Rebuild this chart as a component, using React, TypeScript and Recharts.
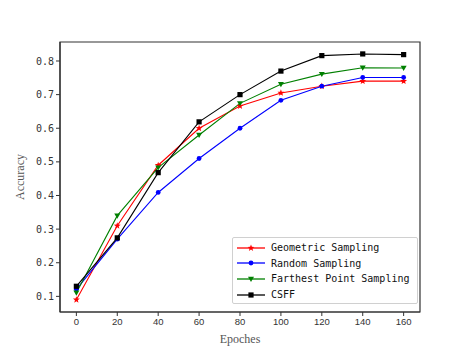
import { LineChart, Line, XAxis, YAxis, Legend, Label, ReferenceArea } from 'recharts';

const epochs = [0, 20, 40, 60, 80, 100, 120, 140, 160];
const geometric = [0.09, 0.31, 0.49, 0.6, 0.666, 0.705, 0.725, 0.74, 0.74];
const random = [0.121, 0.27, 0.409, 0.51, 0.6, 0.683, 0.725, 0.751, 0.751];
const farthest = [0.111, 0.34, 0.483, 0.58, 0.674, 0.731, 0.761, 0.78, 0.779];
const csff = [0.13, 0.274, 0.468, 0.619, 0.7, 0.77, 0.816, 0.821, 0.819];

const xTicks = [0, 20, 40, 60, 80, 100, 120, 140, 160];
const yTicks = [0.1, 0.2, 0.3, 0.4, 0.5, 0.6, 0.7, 0.8];

const xDomain: [number, number] = [-8, 168];
const yDomain: [number, number] = [0.0535, 0.8565];

const data = epochs.map((e, i) => ({
  epoch: e,
  geometric: geometric[i],
  random: random[i],
  farthest: farthest[i],
  csff: csff[i],
}));

type Shape = 'star' | 'circle' | 'tri' | 'square';

function Marker({ x, y, shape, color }: { x: number; y: number; shape: Shape; color: string }) {
  if (shape === 'star') {
    const pts: string[] = [];
    for (let k = 0; k < 10; k++) {
      const r = k % 2 === 0 ? 3.6 : 1.5;
      const a = -Math.PI / 2 + (k * Math.PI) / 5;
      pts.push(`${x + r * Math.cos(a)},${y + r * Math.sin(a)}`);
    }
    return <polygon points={pts.join(' ')} fill={color} stroke="none" />;
  }
  if (shape === 'circle') return <circle cx={x} cy={y} r={2.4} fill={color} />;
  if (shape === 'tri')
    return <polygon points={`${x - 3},${y - 2.2} ${x + 3},${y - 2.2} ${x},${y + 3}`} fill={color} />;
  return <rect x={x - 2.6} y={y - 2.6} width={5.2} height={5.2} fill={color} />;
}

const series: { key: string; name: string; color: string; shape: Shape }[] = [
  { key: 'geometric', name: 'Geometric Sampling', color: '#ff0000', shape: 'star' },
  { key: 'random', name: 'Random Sampling', color: '#0000ff', shape: 'circle' },
  { key: 'farthest', name: 'Farthest Point Sampling', color: '#008000', shape: 'tri' },
  { key: 'csff', name: 'CSFF', color: '#000000', shape: 'square' },
];

const mono = '"DejaVu Sans Mono", monospace';

function LegendBox() {
  return (
    <div
      style={{
        width: 186,
        height: 67,
        border: '1px solid #d0d0d0',
        borderRadius: 2,
        background: '#fff',
        boxSizing: 'border-box',
        paddingTop: 2,
      }}
    >
      {series.map((s) => (
        <div key={s.key} style={{ display: 'flex', alignItems: 'center', height: 15.6 }}>
          <svg width={36} height={12} style={{ marginLeft: 2 }}>
            <line x1={2} y1={6} x2={30} y2={6} stroke={s.color} strokeWidth={1.3} />
            <Marker x={16} y={6} shape={s.shape} color={s.color} />
          </svg>
          <span style={{ fontFamily: mono, fontSize: 10, color: '#111', whiteSpace: 'pre' }}>{s.name}</span>
        </div>
      ))}
    </div>
  );
}

export default function App() {
  return (
    <div style={{ position: 'absolute', left: 0, top: 0, background: '#fff' }}>
      <LineChart width={474} height={353} data={data} margin={{ top: 42, right: 54, left: 0, bottom: 11 }}>
        <XAxis
          dataKey="epoch"
          type="number"
          domain={xDomain}
          ticks={xTicks}
          height={30}
          tickSize={4}
          stroke="#333"
          tick={{ fill: '#333', fontSize: 9.5, fontFamily: 'Liberation Sans, sans-serif' }}
          axisLine={{ stroke: '#333', strokeWidth: 1.2 }}
        >
          <Label
            value="Epoches"
            position="insideBottom"
            offset={-1}
            style={{ fill: '#555', fontSize: 12, fontFamily: '"Liberation Serif", serif' }}
          />
        </XAxis>
        <YAxis
          type="number"
          domain={yDomain}
          ticks={yTicks}
          width={60}
          tickSize={4}
          stroke="#333"
          tickFormatter={(v: number) => v.toFixed(1)}
          tick={{ fill: '#333', fontSize: 10, fontFamily: mono }}
          axisLine={{ stroke: '#333', strokeWidth: 1.2 }}
        >
          <Label
            value="Accuracy"
            angle={-90}
            position="insideLeft"
            offset={20}
            style={{ fill: '#555', fontSize: 12, fontFamily: '"Liberation Serif", serif', textAnchor: 'middle' }}
          />
        </YAxis>
        <ReferenceArea
          x1={xDomain[0]}
          x2={xDomain[1]}
          y1={yDomain[0]}
          y2={yDomain[1]}
          fill="none"
          stroke="#333"
          strokeWidth={1.2}
          ifOverflow="visible"
        />
        {series.map((s) => (
          <Line
            key={s.key}
            dataKey={s.key}
            name={s.name}
            type="linear"
            stroke={s.color}
            strokeWidth={1.1}
            isAnimationActive={false}
            dot={(p: any) => <Marker key={`${s.key}-${p.index}`} x={p.cx} y={p.cy} shape={s.shape} color={s.color} />}
            activeDot={false}
          />
        ))}
        <Legend
          layout="horizontal"
          verticalAlign="middle"
          align="center"
          content={() => <LegendBox />}
          wrapperStyle={{ position: 'absolute', left: 232, top: 237, width: 186, height: 67 }}
        />
      </LineChart>
    </div>
  );
}
